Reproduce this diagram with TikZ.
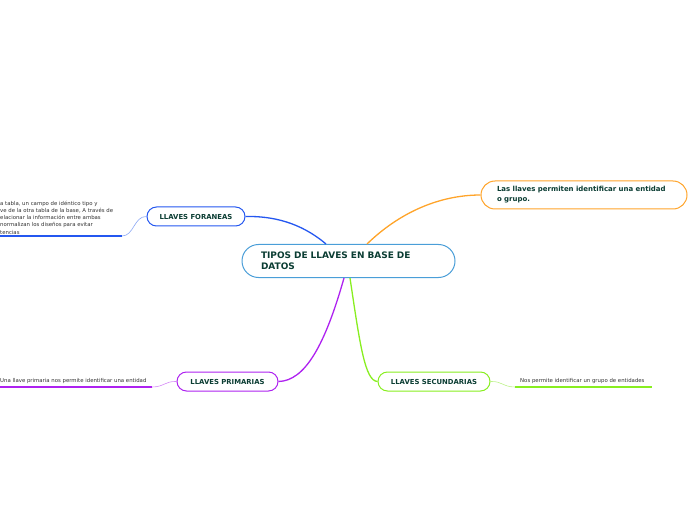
\documentclass[tikz,border=0pt]{standalone}
\usepackage{fontspec}
\setmainfont{DejaVu Sans}
\usetikzlibrary{calc}
\definecolor{cblue}{HTML}{4A9ED8}
\definecolor{fblue}{HTML}{2457F0}
\definecolor{lblue}{HTML}{8CA8F4}
\definecolor{corange}{HTML}{FFA42A}
\definecolor{cpurple}{HTML}{AE22F0}
\definecolor{lpurple}{HTML}{D58AF6}
\definecolor{cgreen}{HTML}{88EE20}
\definecolor{lgreen}{HTML}{BDF28A}
\definecolor{ctext}{HTML}{0B3D33}
\definecolor{leaftext}{HTML}{333333}
\tikzset{
  topic/.style={draw, line width=1bp, fill=white, text=ctext, font=\bfseries\fontsize{6.9}{8}\selectfont,
    minimum height=19bp, inner sep=0pt, align=center},
  leaf/.style={text=leaftext, font=\fontsize{5.4}{7.3}\selectfont, inner sep=0pt, align=left, anchor=north west},
  conn/.style={line width=1.3bp},
  thin/.style={line width=0.6bp},
  uline/.style={line width=1.4bp}
}
\begin{document}
\begin{tikzpicture}[x=1bp,y=-1bp]
\useasboundingbox (0,0) rectangle (696,520);
% central
\node[draw=cblue, line width=1bp, fill=white, rounded corners=16.5bp, text=ctext,
  font=\bfseries\fontsize{9}{11}\selectfont, minimum width=213bp, minimum height=33bp,
  inner xsep=19bp, inner ysep=0pt, text width=175bp, align=left] (c) at (348.5,261)
  {TIPOS DE LLAVES EN BASE DE\\DATOS};
% orange
\node[draw=corange, line width=1bp, fill=white, rounded corners=14bp, text=ctext,
  font=\bfseries\fontsize{7}{10}\selectfont, minimum width=206bp, minimum height=28bp,
  inner xsep=16bp, inner ysep=0pt, text width=174bp, align=left] (o) at (584,195)
  {Las llaves permiten identificar una entidad\\o grupo.};
% topics
\node[topic, draw=fblue, rounded corners=9.5bp, minimum width=98bp] (f) at (196,216.5) {LLAVES FORANEAS};
\node[topic, draw=cpurple, rounded corners=9.5bp, minimum width=101bp] (p) at (227.5,381.5) {LLAVES PRIMARIAS};
\node[topic, draw=cgreen, rounded corners=9.5bp, minimum width=112bp] (s) at (434,381.5) {LLAVES SECUNDARIAS};
% main connectors
\draw[conn, fblue] ([xshift=-22.5bp]c.north) .. controls (300,222) and (272,216) .. (f.east);
\draw[conn, corange] ([xshift=18.5bp]c.north) .. controls (400,212) and (440,195) .. (o.west);
\draw[conn, cpurple] ([xshift=-4.5bp]c.south) .. controls (325,345) and (305,381) .. (p.east);
\draw[conn, cgreen] ([xshift=1.5bp]c.south) .. controls (360,345) and (365,381) .. (s.west);
% leaf: foraneas
\node[leaf] (fl) at (0,200.5) {a tabla, un campo de idéntico tipo y\\ve de la otra tabla de la base, A través de\\elacionar la información entre ambas\\ normalizan los diseños para evitar\\tencias};
\coordinate (fa) at (122,236);
\coordinate (fb) at (0,236);
\draw[thin, lblue] (f.west) .. controls (134,216) and (134,236) .. (fa);
\draw[uline, fblue] (fa) -- (fb);
% leaf: primarias
\node[leaf] (pl) at (0,378.5) {Una llave primaria nos permite identificar una entidad};
\coordinate (pa) at (152,387);
\coordinate (pb) at (0,387);
\draw[thin, lpurple] (p.west) .. controls (165,381) and (164,387) .. (pa);
\draw[uline, cpurple] (pa) -- (pb);
% leaf: secundarias
\node[leaf] (sl) at (520,378.5) {Nos permite identificar un grupo de entidades};
\coordinate (sa) at (515,387);
\coordinate (sb) at (652,387);
\draw[thin, lgreen] (s.east) .. controls (502,381) and (503,387) .. (sa);
\draw[uline, cgreen] (sa) -- (sb);
\end{tikzpicture}
\end{document}
